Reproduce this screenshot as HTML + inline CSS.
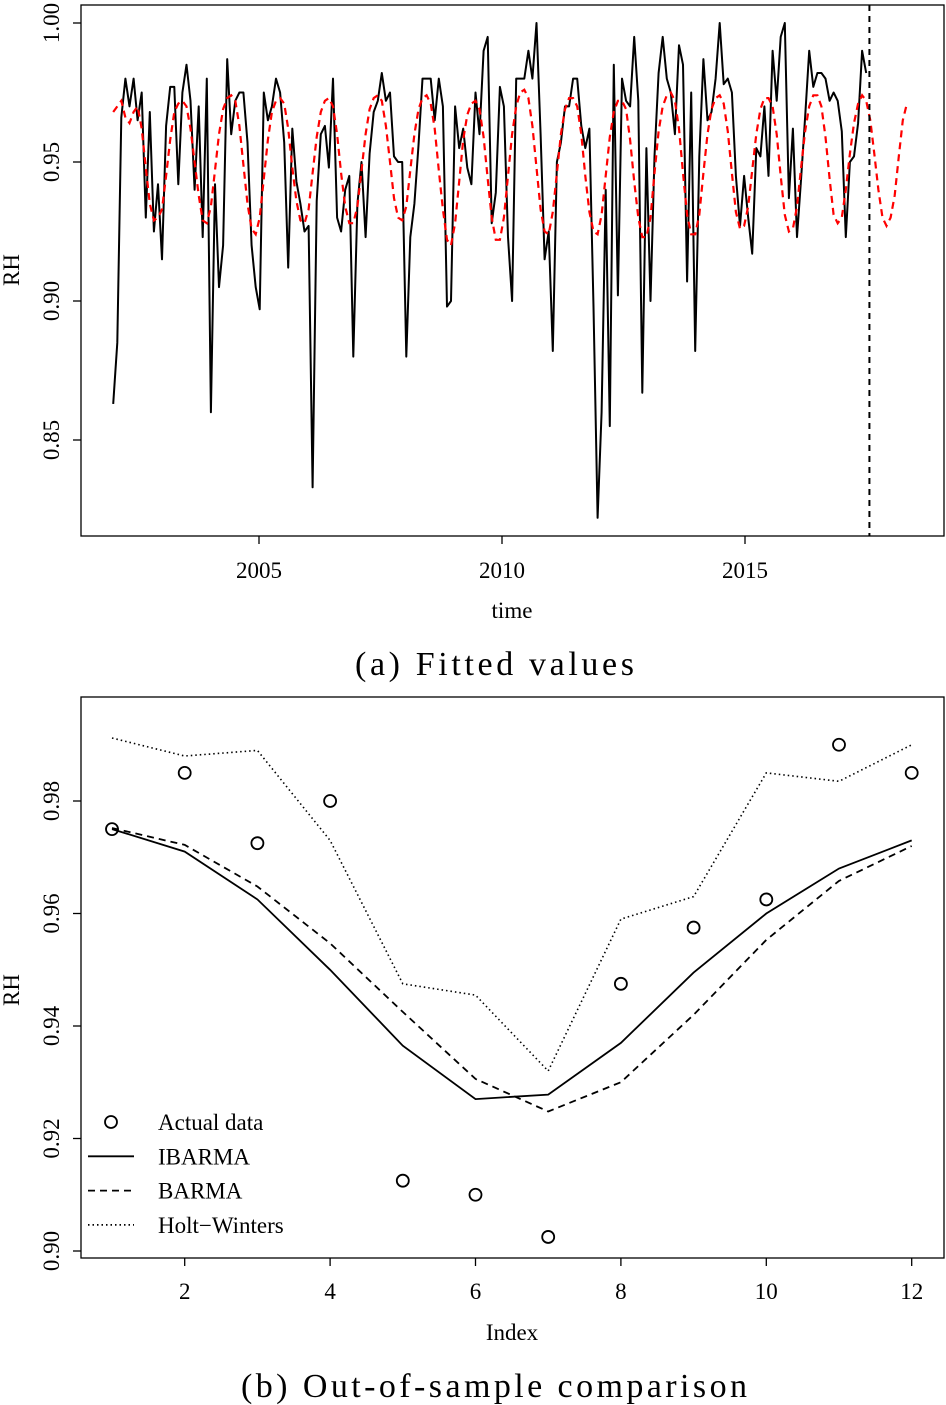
<!DOCTYPE html>
<html><head><meta charset="utf-8"><style>
body{margin:0;background:#fff;}
svg{display:block;font-family:"Liberation Serif",serif;}
</style></head><body>
<svg id="fig" width="946" height="1405" viewBox="0 0 946 1405" xmlns="http://www.w3.org/2000/svg"></svg>
<script>
// ---- Panel (a) data ----
const obsStartYear = 2002;
const rhObserved = [
0.863,0.885,0.966,0.980,0.970,0.980,0.965,0.975,0.930,0.968,0.925,0.942,
0.915,0.963,0.977,0.977,0.942,0.975,0.985,0.972,0.940,0.970,0.923,0.980,
0.860,0.942,0.905,0.920,0.987,0.960,0.972,0.975,0.975,0.957,0.920,0.905,
0.897,0.975,0.965,0.970,0.980,0.975,0.957,0.912,0.962,0.943,0.935,0.925,
0.927,0.833,0.936,0.960,0.963,0.948,0.980,0.930,0.925,0.940,0.945,0.880,
0.935,0.950,0.923,0.953,0.968,0.972,0.982,0.972,0.975,0.952,0.950,0.950,
0.880,0.923,0.935,0.956,0.980,0.980,0.980,0.965,0.980,0.970,0.898,0.900,
0.970,0.955,0.962,0.948,0.942,0.975,0.960,0.990,0.995,0.928,0.939,0.977,
0.970,0.923,0.900,0.980,0.980,0.980,0.990,0.980,1.000,0.960,0.915,0.925,
0.882,0.950,0.957,0.970,0.970,0.980,0.980,0.963,0.955,0.962,0.898,0.822,
0.860,0.940,0.855,0.985,0.902,0.980,0.972,0.970,0.995,0.972,0.867,0.955,
0.900,0.952,0.982,0.995,0.980,0.975,0.960,0.992,0.985,0.907,0.975,0.882,
0.952,0.987,0.965,0.968,0.980,1.000,0.978,0.980,0.975,0.945,0.927,0.945,
0.930,0.917,0.955,0.952,0.970,0.945,0.990,0.972,0.995,1.000,0.937,0.962,
0.923,0.944,0.966,0.990,0.977,0.982,0.982,0.980,0.972,0.975,0.972,0.961,
0.923,0.950,0.952,0.964,0.990,0.982
];
const rhFitted = [
0.968,0.970,0.972,0.966,0.964,0.968,0.970,0.962,0.948,0.935,0.929,0.930,
0.933,0.945,0.958,0.968,0.971,0.972,0.970,0.962,0.950,0.938,0.929,0.928,
0.934,0.947,0.960,0.969,0.973,0.974,0.972,0.963,0.949,0.935,0.926,0.924,
0.930,0.944,0.958,0.968,0.972,0.973,0.971,0.962,0.948,0.936,0.929,0.928,
0.933,0.946,0.959,0.968,0.972,0.973,0.970,0.960,0.946,0.934,0.928,0.928,
0.934,0.947,0.960,0.969,0.973,0.974,0.972,0.963,0.950,0.937,0.930,0.929,
0.934,0.947,0.960,0.969,0.973,0.974,0.971,0.962,0.947,0.933,0.922,0.920,
0.928,0.943,0.958,0.967,0.971,0.972,0.969,0.959,0.944,0.930,0.922,0.922,
0.930,0.945,0.960,0.970,0.975,0.976,0.973,0.963,0.948,0.933,0.925,0.924,
0.932,0.946,0.960,0.969,0.973,0.973,0.970,0.960,0.945,0.932,0.925,0.924,
0.931,0.945,0.959,0.968,0.972,0.972,0.969,0.958,0.943,0.930,0.923,0.923,
0.930,0.946,0.961,0.970,0.974,0.975,0.972,0.962,0.946,0.931,0.924,0.924,
0.931,0.946,0.960,0.969,0.973,0.974,0.971,0.961,0.946,0.932,0.926,0.927,
0.934,0.947,0.960,0.969,0.973,0.973,0.970,0.960,0.945,0.931,0.925,0.926,
0.934,0.948,0.961,0.970,0.974,0.974,0.970,0.959,0.944,0.931,0.928,0.930,
0.940,0.953,0.964,0.971,0.974,0.972,0.965,0.953,0.940,0.930,0.927,0.930,
0.938,0.952,0.965,0.971
];
const cutYear = 2017.56;
const xTicksA = [2005, 2010, 2015];
const yTicksA = [0.85, 0.90, 0.95, 1.00];
const yTickLabelsA = ["0.85", "0.90", "0.95", "1.00"];

// ---- Panel (b) data ----
const idx = [1,2,3,4,5,6,7,8,9,10,11,12];
const actual = [0.975,0.985,0.9725,0.980,0.9125,0.910,0.9025,0.9475,0.9575,0.9625,0.990,0.985];
const ibarma = [0.975,0.971,0.9625,0.950,0.9365,0.927,0.9278,0.937,0.9495,0.960,0.968,0.973];
const barma = [0.9752,0.9722,0.9648,0.9547,0.9425,0.9306,0.9248,0.930,0.942,0.9553,0.9658,0.972];
const holtWinters = [0.9912,0.988,0.989,0.973,0.9475,0.9455,0.932,0.959,0.963,0.985,0.9835,0.990];
const xTicksB = [2,4,6,8,10,12];
const yTicksB = [0.90,0.92,0.94,0.96,0.98];
const yTickLabelsB = ["0.90","0.92","0.94","0.96","0.98"];

const NS = "http://www.w3.org/2000/svg";
const svg = document.getElementById("fig");
function mk(tag, attrs, parent){
  const e = document.createElementNS(NS, tag);
  for (const k in attrs) e.setAttribute(k, attrs[k]);
  (parent||svg).appendChild(e);
  return e;
}
// axis functions
const xA = t => 259 + (t - 2005) * 48.6;
const yA = v => 162 - (v - 0.95) * 2780;
const xB = i => 112 + (i - 1) * 72.7;
const yB = v => 801 - (v - 0.98) * 5625;
const stepA = 1/12 * 1.005;

// ---- Panel (a) ----
const gA = mk("g", {});


const boxA = mk("rect", {x:81, y:5, width:863, height:531, fill:"none", stroke:"#000", "stroke-width":1.3}, gA);



let dObs = rhObserved.map((v,i)=>(i?"L":"M")+xA(obsStartYear+i*stepA).toFixed(1)+","+yA(v).toFixed(1)).join("");
const obsLine = mk("path", {d:dObs, fill:"none", stroke:"#000", "stroke-width":2, "stroke-linejoin":"round"}, gA);



let dFit = rhFitted.map((v,i)=>(i?"L":"M")+xA(obsStartYear+i*stepA).toFixed(1)+","+yA(v).toFixed(1)).join("");
const fitLine = mk("path", {d:dFit, fill:"none", stroke:"#ff0000", "stroke-width":2.2, "stroke-dasharray":"7,5"}, gA);



const cut = mk("line", {x1:xA(cutYear), x2:xA(cutYear), y1:5, y2:536, stroke:"#000", "stroke-width":2, "stroke-dasharray":"6,5"}, gA);



xTicksA.forEach(t=>{
  const tk = mk("line", {x1:xA(t), x2:xA(t), y1:536, y2:544, stroke:"#000", "stroke-width":1.3}, gA);
  
  
  const lb = mk("text", {x:xA(t), y:578, "text-anchor":"middle", "font-size":23}, gA);
  lb.textContent = t;
  
  
});
yTicksA.forEach((v,i)=>{
  const tk = mk("line", {x1:73, x2:81, y1:yA(v), y2:yA(v), stroke:"#000", "stroke-width":1.3}, gA);
  
  
  const lb = mk("text", {x:0, y:0, "text-anchor":"middle", "font-size":23, transform:`translate(59,${yA(v)}) rotate(-90)`}, gA);
  lb.textContent = yTickLabelsA[i];
  
  
});
const xtA = mk("text", {x:512, y:618, "text-anchor":"middle", "font-size":23}, gA);
xtA.textContent = "time";


const ytA = mk("text", {x:0, y:0, "text-anchor":"middle", "font-size":23, transform:"translate(19,270) rotate(-90)"}, gA);
ytA.textContent = "RH";


const capA = mk("text", {x:355, y:675, "font-size":34, textLength:279, lengthAdjust:"spacing"}, gA);
capA.textContent = "(a)  Fitted values";



// ---- Panel (b) ----
const gB = mk("g", {});


const boxB = mk("rect", {x:81, y:697, width:863, height:561, fill:"none", stroke:"#000", "stroke-width":1.3}, gB);



function series(arr, dash, name){
  const d = arr.map((v,i)=>(i?"L":"M")+xB(idx[i]).toFixed(1)+","+yB(v).toFixed(1)).join("");
  const p = mk("path", {d:d, fill:"none", stroke:"#000", "stroke-width":dash==="dot"?1.6:1.8, "stroke-dasharray":dash==="dash"?"7,5":dash==="dot"?"1.5,3":"none"}, gB);
  
  
}
series(ibarma, "solid", "ibarma-line");
series(barma, "dash", "barma-line");
series(holtWinters, "dot", "holt-winters-line");
actual.forEach((v,i)=>{
  const c = mk("circle", {cx:xB(idx[i]), cy:yB(v), r:6, fill:"none", stroke:"#000", "stroke-width":1.8}, gB);
  
  
});
xTicksB.forEach(t=>{
  const tk = mk("line", {x1:xB(t), x2:xB(t), y1:1258, y2:1266, stroke:"#000", "stroke-width":1.3}, gB);
  
  
  const lb = mk("text", {x:xB(t), y:1299, "text-anchor":"middle", "font-size":23}, gB);
  lb.textContent = t;
  
  
});
yTicksB.forEach((v,i)=>{
  const tk = mk("line", {x1:73, x2:81, y1:yB(v), y2:yB(v), stroke:"#000", "stroke-width":1.3}, gB);
  
  
  const lb = mk("text", {x:0, y:0, "text-anchor":"middle", "font-size":23, transform:`translate(59,${yB(v)}) rotate(-90)`}, gB);
  lb.textContent = yTickLabelsB[i];
  
  
});
const xtB = mk("text", {x:512, y:1340, "text-anchor":"middle", "font-size":23}, gB);
xtB.textContent = "Index";


const ytB = mk("text", {x:0, y:0, "text-anchor":"middle", "font-size":23, transform:"translate(19,990) rotate(-90)"}, gB);
ytB.textContent = "RH";


const capB = mk("text", {x:241, y:1397, "font-size":34, textLength:506, lengthAdjust:"spacing"}, gB);
capB.textContent = "(b)  Out-of-sample comparison";



// legend
const lg = mk("g", {}, gB);


const legendLabels = ["Actual data","IBARMA","BARMA","Holt\u2212Winters"];
const legendStyles = ["circle","solid","dash","dot"];
legendLabels.forEach((lab,i)=>{
  const yy = 1122 + i*34.3;
  if (legendStyles[i]==="circle"){
    const c = mk("circle", {cx:111, cy:yy, r:6, fill:"none", stroke:"#000", "stroke-width":1.8}, lg);
    
    
  } else {
    const da = legendStyles[i]==="dash"?"7,5":legendStyles[i]==="dot"?"1.5,3":"none";
    const l = mk("line", {x1:88, x2:134, y1:yy, y2:yy, stroke:"#000", "stroke-width":1.8, "stroke-dasharray":da}, lg);
    
    
  }
  const t = mk("text", {x:158, y:yy+8, "font-size":23}, lg);
  t.textContent = lab;
  
  
});
</script>
</body></html>
